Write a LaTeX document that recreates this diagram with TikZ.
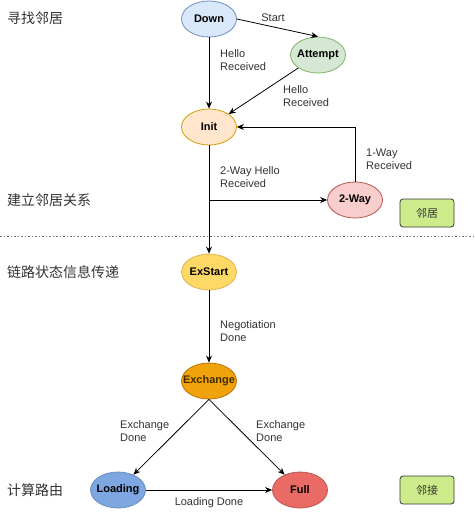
\documentclass[tikz,border=0pt]{standalone}
\usepackage{fontspec}
\setmainfont{Liberation Sans}
\newfontfamily\cjk{Noto Sans CJK SC}
\usetikzlibrary{shapes.geometric,arrows.meta}
\definecolor{downF}{HTML}{DAE8FC}\definecolor{downD}{HTML}{6C8EBF}
\definecolor{attF}{HTML}{D5E8D4}\definecolor{attD}{HTML}{82B366}
\definecolor{initF}{HTML}{FFE6CC}\definecolor{initD}{HTML}{D79B00}
\definecolor{twoF}{HTML}{F8CECC}\definecolor{twoD}{HTML}{B85450}
\definecolor{exsF}{HTML}{FFD966}\definecolor{exsD}{HTML}{D6B656}
\definecolor{excF}{HTML}{F0A30A}\definecolor{excD}{HTML}{BD7000}\definecolor{excT}{HTML}{432D00}
\definecolor{loadF}{HTML}{7EA6E0}\definecolor{loadD}{HTML}{6C8EBF}
\definecolor{fullF}{HTML}{EA6B66}\definecolor{fullD}{HTML}{B85450}
\definecolor{boxF}{HTML}{CDEB8B}\definecolor{boxD}{HTML}{36393D}
\definecolor{lblC}{HTML}{333333}
\newcommand{\zw}[1]{\makebox[0pt][c]{#1}}
\begin{document}
\begin{tikzpicture}[x=1pt,y=-1pt,
  state/.style={ellipse, draw, line width=0.8pt, minimum width=55pt, minimum height=36pt, inner sep=0pt, font=\fontsize{11}{13}\selectfont\bfseries},
  lbl/.style={font=\fontsize{11}{13}\selectfont, text=lblC, align=left, inner sep=0pt},
  sec/.style={font=\cjk\fontsize{14}{16}\selectfont, text=lblC, anchor=west, inner sep=0pt},
  tag/.style={rounded corners=3pt, draw=boxD, fill=boxF, line width=0.8pt, minimum width=54pt, minimum height=28pt, inner sep=0pt, font=\cjk\fontsize{11}{13}\selectfont, text=lblC},
  arr/.style={-{Stealth[length=7pt,width=6pt]}, line width=0.8pt}]
\useasboundingbox (0,0) rectangle (474,513);
\fill[white] (0,0) rectangle (474,513);

% section labels
\node[sec] (s1) at (7,18) {寻找邻居};
\node[sec] (s2) at (7,200) {建立邻居关系};
\node[sec] (s3) at (7,272) {链路状态信息传递};
\node[sec] (s4) at (7,490) {计算路由};

% dotted separator
\draw[line width=1pt, draw=black!55, dash pattern=on 1.5pt off 2pt] (0,236) -- (474,236);

% states
\node[state, fill=downF, draw=downD] (down) at (209,19) {\zw{Down}};
\node[state, fill=attF, draw=attD] (att) at (318,55) {\zw{Attempt}};
\node[state, fill=initF, draw=initD] (init) at (209,127) {\zw{Init}};
\node[state, fill=twoF, draw=twoD] (two) at (355,200) {\zw{2-Way}};
\node[state, fill=exsF, draw=exsD] (exs) at (209,272) {\zw{ExStart}};
\node[state, fill=excF, draw=excD, text=excT] (exc) at (209,381) {\zw{Exchange}};
\node[state, fill=loadF, draw=loadD] (load) at (118,490) {\zw{Loading}};
\node[state, fill=fullF, draw=fullD] (full) at (300,490) {\zw{Full}};

% tag boxes
\node[tag] (t1) at (427,213) {邻居};
\node[tag] (t2) at (427,490) {邻接};

% connectors
\draw[arr] (down.east) -- (att.north);
\draw[arr] (down) -- (init);
\draw[arr] (att) -- (init);
\draw[arr] (init) -- (exs);
\coordinate (br) at (209,200);
\draw[arr] (br) -- (two);
\draw[arr] (two.north) |- (init.east);
\draw[arr] (exs) -- (exc);
\draw[arr] (exc.south) -- (load);
\draw[arr] (exc.south) -- (full);
\draw[arr] (load) -- (full);

% edge labels
\node[lbl, anchor=center] (l1) at (273,18) {Start};
\node[lbl, anchor=west] (l2) at (220,60) {Hello\\Received};
\node[lbl, anchor=west] (l3) at (283,96) {Hello\\Received};
\node[lbl, anchor=west] (l4) at (366,159) {1-Way\\Received};
\node[lbl, anchor=west] (l5) at (220,177) {2-Way Hello\\Received};
\node[lbl, anchor=west] (l6) at (220,331) {Negotiation\\Done};
\node[lbl, anchor=west] (l7) at (120,431) {Exchange\\Done};
\node[lbl, anchor=west] (l8) at (256,431) {Exchange\\Done};
\node[lbl, anchor=center] (l9) at (209,503) {Loading Done};
\end{tikzpicture}
\end{document}
